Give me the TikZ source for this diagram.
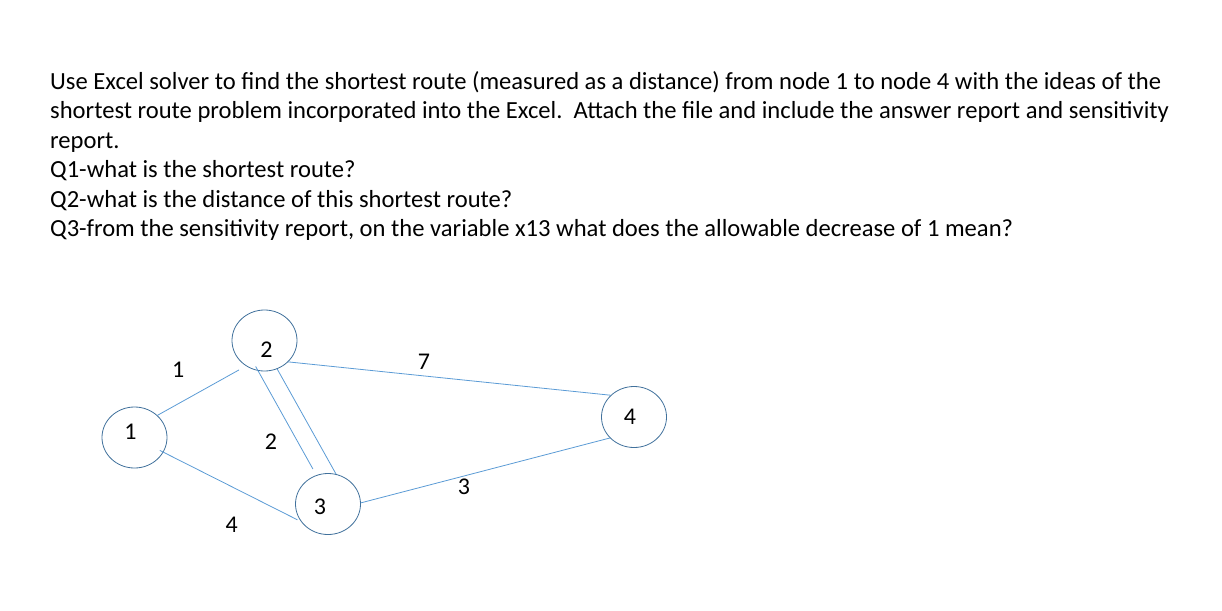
\documentclass[tikz,border=0pt]{standalone}
\usepackage{fontspec}
\setmainfont{Carlito}
\usepackage{xcolor}
\usetikzlibrary{shapes,arrows,positioning,calc}
\definecolor{edgeblue}{HTML}{5B9BD5}
\definecolor{nodeblue}{HTML}{41719C}

\begin{document}
\begin{tikzpicture}[x=1pt,y=-1pt]
  % Define styles
  \tikzstyle{vertex} = [ellipse, draw=nodeblue, line width=0.8pt, inner sep=0pt, minimum width=65pt, minimum height=61pt]
  \tikzstyle{edge} = [draw=edgeblue, line width=0.8pt]
  \tikzstyle{weight} = [font=\fontsize{24}{29}\selectfont, inner sep=0pt]

  \useasboundingbox (0,0) rectangle (1222,610);

  % Problem text
  \node [anchor=base west, inner sep=0pt, align=left, font=\fontsize{24.6}{29.5}\selectfont] (question) at (50,236.5) {
    Use Excel solver to find the shortest route (measured as a distance) from node 1 to node 4 with the ideas of the\\
    shortest route problem incorporated into the Excel.\ \ Attach the file and include the answer report and sensitivity\\
    report.\\
    Q1-what is the shortest route?\\
    Q2-what is the distance of this shortest route?\\
    Q3-from the sensitivity report, on the variable x13 what does the allowable decrease of 1 mean?
  };

  % Vertices of the network
  \node [vertex, label={[weight, xshift=-4pt, yshift=6pt]center:1}] (n1) at (134.5,437.5) {};
  \node [vertex, label={[weight, xshift=2pt, yshift=-9.5pt]center:2}] (n2) at (264.5,340.5) {};
  \node [vertex, label={[weight, xshift=-8pt, yshift=-3pt]center:3}] (n3) at (328,504) {};
  \node [vertex, label={[weight, xshift=-4pt]center:4}] (n4) at (634,417) {};

  % Edges between the vertices
  \draw [edge, shorten >=8pt] (n1.44) -- (n2.234);
  \draw [edge, shorten <=-4pt, shorten >=4pt] (n1.-27) -- (n3.213);
  \draw [edge, shorten <=-5pt, shorten >=7pt] (n2.258) -- (n3.112);
  \draw [edge] (n2.-66) -- (n3.75.5);
  \draw [edge] (n2.-42.5) -- (n4.137.6);
  \draw [edge] (n3.2) -- (n4.221);

  % Distances on the edges
  \node [weight] (w12) at (178.3,370) {1};
  \node [weight] (w13) at (231.7,525) {4};
  \node [weight] (w23) at (271,441.7) {2};
  \node [weight] (w24) at (424,361.7) {7};
  \node [weight] (w34) at (464,487) {3};
  
\end{tikzpicture}
\end{document}
